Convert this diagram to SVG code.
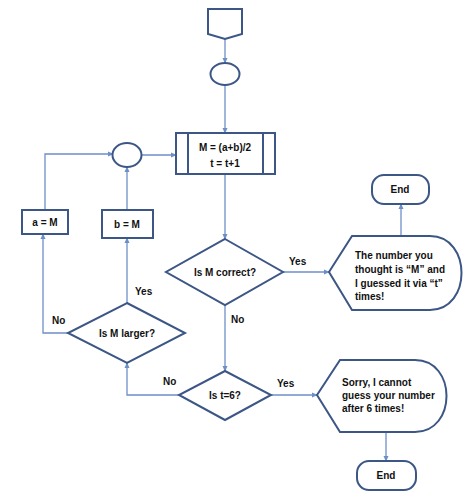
<svg xmlns="http://www.w3.org/2000/svg" width="474" height="497" viewBox="0 0 474 497">
<style>
.s{fill:#fff;stroke:#3c5685;stroke-width:2}
.c{fill:none;stroke:#6d8fc8;stroke-width:1.3}
text{font-family:"Liberation Sans",Arial,sans-serif;font-weight:bold;font-size:10px;fill:#111}
.m{text-anchor:middle}
</style>
<defs>
<marker id="a" viewBox="0 0 8 8" refX="7" refY="4" markerWidth="6" markerHeight="6" orient="auto" markerUnits="userSpaceOnUse">
<path d="M0,0.5 L8,4 L0,7.5 Z" fill="#6d8fc8"/>
</marker>
</defs>
<rect width="474" height="497" fill="#fff"/>
<g id="connectors">
<path class="c" d="M225,39 V63" marker-end="url(#a)"/>
<path class="c" d="M225,85 V133" marker-end="url(#a)"/>
<path class="c" d="M142,155 H176" marker-end="url(#a)"/>
<path class="c" d="M45,210 V154 H113" marker-end="url(#a)"/>
<path class="c" d="M127,210 V167" marker-end="url(#a)"/>
<path class="c" d="M225,174 V239" marker-end="url(#a)"/>
<path class="c" d="M283,272 H329" marker-end="url(#a)"/>
<path class="c" d="M401,236 V204" marker-end="url(#a)"/>
<path class="c" d="M225,305 V371" marker-end="url(#a)"/>
<path class="c" d="M127,303 V238" marker-end="url(#a)"/>
<path class="c" d="M68,333 H43 V234" marker-end="url(#a)"/>
<path class="c" d="M179,395 H127 V363" marker-end="url(#a)"/>
<path class="c" d="M271,395 H317" marker-end="url(#a)"/>
<path class="c" d="M386,432 V461" marker-end="url(#a)"/>
</g>
<g id="start">
<path class="s" d="M208,9 H242 V34 L225,39 L208,34 Z"/>
</g>
<g id="connector1">
<ellipse class="s" cx="225" cy="74" rx="14.5" ry="11"/>
</g>
<g id="connector2">
<ellipse class="s" cx="127" cy="155" rx="14.5" ry="12"/>
</g>
<g id="process">
<rect class="s" x="176" y="133" width="99" height="41"/>
<path class="s" d="M188,133 V174 M263,133 V174"/>
<text class="m" x="225" y="151">M = (a+b)/2</text>
<text class="m" x="225" y="167">t = t+1</text>
</g>
<g id="aM">
<rect class="s" x="22" y="210" width="46" height="24"/>
<text class="m" x="45" y="226">a = M</text>
</g>
<g id="bM">
<rect class="s" x="102" y="210" width="51" height="28"/>
<text class="m" x="127" y="228">b = M</text>
</g>
<g id="correct">
<path class="s" d="M225,239 L283,272 L225,305 L166,272 Z"/>
<text class="m" x="225" y="276">Is M correct?</text>
</g>
<g id="larger">
<path class="s" d="M127,303 L185,333 L127,363 L68,333 Z"/>
<text class="m" x="127" y="337">Is M larger?</text>
</g>
<g id="t6">
<path class="s" d="M225,371 L271,395 L225,420 L179,395 Z"/>
<text class="m" x="225" y="399">Is t=6?</text>
</g>
<g id="display1">
<path class="s" d="M329,272 L352,236 H430 C472,236 472,310 430,310 H352 Z"/>
<text x="355" y="259">The number you</text>
<text x="355" y="273">thought is “M” and</text>
<text x="355" y="287">I guessed it via “t”</text>
<text x="355" y="300">times!</text>
</g>
<g id="display2">
<path class="s" d="M317,395 L340,360 H415 C457,360 457,432 415,432 H340 Z"/>
<text x="342" y="386">Sorry, I cannot</text>
<text x="342" y="399">guess your number</text>
<text x="342" y="412">after 6 times!</text>
</g>
<g id="end1">
<rect class="s" x="372" y="175" width="57" height="29" rx="12"/>
<text class="m" x="400" y="193">End</text>
</g>
<g id="end2">
<rect class="s" x="357" y="461" width="59" height="29" rx="12"/>
<text class="m" x="386" y="479">End</text>
</g>
<g id="labels">
<text x="289" y="265">Yes</text>
<text x="231" y="323">No</text>
<text x="135" y="295">Yes</text>
<text x="52" y="324">No</text>
<text x="163" y="385">No</text>
<text x="277" y="387">Yes</text>
</g>
</svg>
